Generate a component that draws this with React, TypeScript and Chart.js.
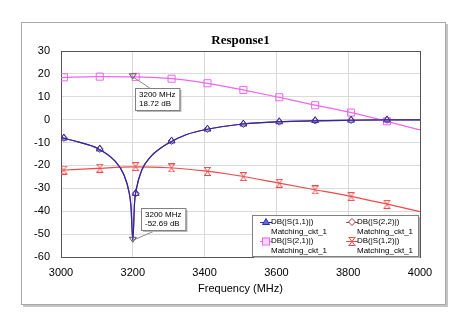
import React, { useEffect, useRef } from "react";
import { Chart, registerables } from "chart.js";

Chart.register(...registerables);

// ---------- data ----------
const TITLE = "Response1";
const X_TITLE = "Frequency (MHz)";
const X_MIN = 3000;
const X_MAX = 4000;
const X_STEP = 200;
const Y_MIN = -60;
const Y_MAX = 30;
const Y_STEP = 10;

// smooth curves
const FREQ_GRID = [3000, 3100, 3200, 3300, 3400, 3500, 3600, 3700, 3800, 3900, 4000];
const S21_LINE = [18.4, 18.8, 18.72, 18.0, 16.1, 13.2, 10.0, 6.6, 3.4, -0.4, -4.5];
const S12_LINE = [-22.1, -21.3, -20.6, -21.0, -22.4, -24.6, -27.5, -30.4, -33.3, -36.6, -40.2];

const FREQ_S11 = [3000, 3050, 3100, 3150, 3175, 3190, 3195, 3200, 3205, 3210, 3225, 3250, 3275, 3300, 3350, 3400, 3500, 3600, 3700, 3800, 3900, 4000];
const S11_LINE = [-7.8, -9.8, -12.4, -18.0, -24.0, -32.0, -38.0, -52.69, -36.0, -30.2, -22.0, -16.1, -12.7, -10.2, -6.5, -4.4, -2.0, -1.0, -0.5, -0.25, -0.1, -0.05];
const S22_LINE = [-7.8, -9.8, -12.4, -18.0, -24.0, -32.0, -38.0, -52.69, -36.0, -30.2, -22.0, -16.1, -12.7, -10.2, -6.5, -4.4, -2.0, -1.0, -0.5, -0.25, -0.1, -0.05];

// symbol positions
const MARK_FREQ = [3008, 3108, 3208, 3308, 3408, 3508, 3608, 3708, 3808, 3908];
const S11_MARKS = [-8.0, -12.8, -32.2, -9.3, -4.1, -1.9, -0.9, -0.4, -0.2, -0.1];
const S22_MARKS = [-8.0, -12.8, -32.2, -9.3, -4.1, -1.9, -0.9, -0.4, -0.2, -0.1];
const S21_MARKS = [18.5, 18.8, 18.7, 17.9, 15.9, 13.0, 9.8, 6.3, 3.1, -0.7];
const S12_MARKS = [-22.0, -21.2, -20.5, -21.1, -22.6, -24.9, -27.8, -30.7, -33.6, -37.0];

// marker readouts
const ANNOT_FREQ = [3200, 3200];
const ANNOT_DB = [18.72, -52.69];
const ANNOT_TEXT = [["3200 MHz", "18.72 dB"], ["3200 MHz", "-52.69 dB"]];

const LEGEND_LABELS = [
  ["DB(|S(1,1)|)", "Matching_ckt_1"],
  ["DB(|S(2,2)|)", "Matching_ckt_1"],
  ["DB(|S(2,1)|)", "Matching_ckt_1"],
  ["DB(|S(1,2)|)", "Matching_ckt_1"],
];

// ---------- styles ----------
const C_S11 = "#2b2bb0";
const C_S22 = "#a03a3a";
const C_S21 = "#ee66ee";
const C_S12 = "#ee4a4a";
const SANS = "'Liberation Sans', Arial, sans-serif";

const pts = (xs: number[], ys: number[]) => xs.map((x, i) => ({ x, y: ys[i] }));

function hourglass(color: string) {
  const c = document.createElement("canvas");
  c.width = 9;
  c.height = 9;
  const g = c.getContext("2d")!;
  g.strokeStyle = color;
  g.lineWidth = 1;
  g.beginPath();
  g.moveTo(1, 0.5);
  g.lineTo(8, 0.5);
  g.moveTo(1, 8.5);
  g.lineTo(8, 8.5);
  g.moveTo(1.5, 0.5);
  g.lineTo(7.5, 8.5);
  g.moveTo(7.5, 0.5);
  g.lineTo(1.5, 8.5);
  g.stroke();
  return c;
}

function drawSym(ctx: CanvasRenderingContext2D, kind: string, x: number, y: number, color: string) {
  ctx.save();
  ctx.strokeStyle = color;
  ctx.lineWidth = 1;
  ctx.beginPath();
  ctx.moveTo(x - 6, y + 0.5);
  ctx.lineTo(x + 6, y + 0.5);
  ctx.stroke();
  ctx.beginPath();
  if (kind === "tri") {
    ctx.moveTo(x, y - 3.5);
    ctx.lineTo(x + 3.5, y + 2.5);
    ctx.lineTo(x - 3.5, y + 2.5);
    ctx.closePath();
    ctx.fillStyle = "#6a6ae0";
    ctx.fill();
    ctx.stroke();
  } else if (kind === "dia") {
    ctx.moveTo(x, y - 3.5);
    ctx.lineTo(x + 3.5, y);
    ctx.lineTo(x, y + 3.5);
    ctx.lineTo(x - 3.5, y);
    ctx.closePath();
    ctx.fillStyle = "#fff";
    ctx.fill();
    ctx.stroke();
  } else if (kind === "sq") {
    ctx.fillStyle = "#fbd8fb";
    ctx.fillRect(x - 4, y - 3.5, 8, 7);
    ctx.strokeRect(x - 3.5, y - 3, 7, 7);
  } else {
    ctx.moveTo(x - 3.5, y - 3.5);
    ctx.lineTo(x + 3.5, y - 3.5);
    ctx.moveTo(x - 3.5, y + 4.5);
    ctx.lineTo(x + 3.5, y + 4.5);
    ctx.moveTo(x - 3, y - 3.5);
    ctx.lineTo(x + 3, y + 4.5);
    ctx.moveTo(x + 3, y - 3.5);
    ctx.lineTo(x - 3, y + 4.5);
    ctx.stroke();
  }
  ctx.restore();
}

const decorPlugin = {
  id: "decor",
  beforeDraw(chart: any) {
    const ctx: CanvasRenderingContext2D = chart.ctx;
    ctx.save();
    ctx.fillStyle = "#ffffff";
    ctx.fillRect(0, 0, chart.width, chart.height);
    // outer frame with shadow
    ctx.fillStyle = "#c4c4c4";
    ctx.fillRect(23, 24, 425, 283);
    ctx.fillStyle = "#ffffff";
    ctx.fillRect(21, 22, 425, 283);
    ctx.strokeStyle = "#a8a8a8";
    ctx.lineWidth = 1;
    ctx.strokeRect(21.5, 22.5, 424, 282);
    ctx.restore();
  },
  beforeDatasetsDraw(chart: any) {
    const ctx: CanvasRenderingContext2D = chart.ctx;
    const a = chart.chartArea;
    ctx.save();
    ctx.strokeStyle = "#555555";
    ctx.lineWidth = 1;
    ctx.strokeRect(Math.round(a.left) + 0.5, Math.round(a.top) + 0.5, Math.round(a.right - a.left), Math.round(a.bottom - a.top));
    ctx.restore();
  },
  afterDraw(chart: any) {
    const ctx: CanvasRenderingContext2D = chart.ctx;
    const a = chart.chartArea;
    const xs = chart.scales.x;
    const ys = chart.scales.y;
    ctx.save();
    // title
    ctx.fillStyle = "#000";
    ctx.textAlign = "center";
    ctx.textBaseline = "middle";
    ctx.font = "bold 13px 'Liberation Serif', 'Times New Roman', serif";
    ctx.fillText(TITLE, (a.left + a.right) / 2, 41);
    ctx.font = `11px ${SANS}`;
    ctx.fillText(X_TITLE, (a.left + a.right) / 2, 289);

    // readout annotations
    ctx.font = `8px ${SANS}`;
    ANNOT_FREQ.forEach((f, i) => {
      const px = xs.getPixelForValue(f);
      const py = ys.getPixelForValue(ANNOT_DB[i]);
      const lines = ANNOT_TEXT[i];
      const w = Math.max(...lines.map((t) => ctx.measureText(t).width)) + 8;
      const h = 22;
      const bx = i === 0 ? Math.round(px + 2) : Math.round(px + 8);
      const by = i === 0 ? Math.round(py + 11) : Math.round(py - 32);
      // leader
      ctx.strokeStyle = "#8a8a8a";
      ctx.lineWidth = 1;
      ctx.beginPath();
      ctx.moveTo(px, py);
      if (i === 0) ctx.lineTo(px + 17, by);
      else ctx.lineTo(px + 24, by + h);
      ctx.stroke();
      // box
      ctx.fillStyle = "#b8b8b8";
      ctx.fillRect(bx + 2, by + 2, w, h);
      ctx.fillStyle = "#fff";
      ctx.fillRect(bx, by, w, h);
      ctx.strokeStyle = "#808080";
      ctx.strokeRect(bx + 0.5, by + 0.5, w, h);
      ctx.fillStyle = "#000";
      ctx.textAlign = "left";
      ctx.textBaseline = "middle";
      ctx.fillText(lines[0], bx + 4, by + 7);
      ctx.fillText(lines[1], bx + 4, by + 16);
      // marker glyph
      ctx.strokeStyle = "#555";
      ctx.beginPath();
      ctx.moveTo(px - 3.5, py - 3);
      ctx.lineTo(px + 3.5, py - 3);
      ctx.lineTo(px, py + 2);
      ctx.closePath();
      ctx.stroke();
    });

    // legend
    const lx = 252, ly = 215, lw = 166, lh = 41;
    ctx.fillStyle = "#b8b8b8";
    ctx.fillRect(lx + 2, ly + 2, lw, lh);
    ctx.fillStyle = "#fff";
    ctx.fillRect(lx, ly, lw, lh);
    ctx.strokeStyle = "#808080";
    ctx.lineWidth = 1;
    ctx.strokeRect(lx + 0.5, ly + 0.5, lw, lh);
    const kinds = ["tri", "dia", "sq", "hg"];
    const cols = [C_S11, C_S22, C_S21, C_S12];
    const colX = [266, 352];
    const rowY = [222, 241];
    LEGEND_LABELS.forEach((lab, i) => {
      const cx = colX[i % 2];
      const cy = rowY[Math.floor(i / 2)];
      drawSym(ctx, kinds[i], cx, cy, cols[i]);
      ctx.fillStyle = "#000";
      ctx.font = `8px ${SANS}`;
      ctx.textAlign = "left";
      ctx.textBaseline = "middle";
      ctx.fillText(lab[0], cx + 5, cy);
      ctx.fillText(lab[1], cx + 5, cy + 9.5);
    });
    ctx.restore();
  },
};

export default function App() {
  const ref = useRef<HTMLCanvasElement | null>(null);
  useEffect(() => {
    const canvas = ref.current;
    if (!canvas) return;
    const hg = hourglass(C_S12);
    const lineDs = (xs: number[], ys: number[], color: string) => ({
      data: pts(xs, ys),
      borderColor: color,
      borderWidth: 1.2,
      pointRadius: 0,
      fill: false,
      cubicInterpolationMode: "monotone" as const,
    });
    const markDs = (ys: number[], color: string, style: any, r: number) => ({
      data: pts(MARK_FREQ, ys),
      showLine: false,
      borderColor: color,
      backgroundColor: "rgba(0,0,0,0)",
      pointStyle: style,
      pointRadius: r,
      pointBorderWidth: 1,
    });
    const chart = new Chart(canvas, {
      type: "line",
      data: {
        datasets: [
          markDs(S11_MARKS, C_S11, "triangle", 4),
          lineDs(FREQ_S11, S11_LINE, C_S11),
          markDs(S21_MARKS, C_S21, "rect", 5),
          lineDs(FREQ_GRID, S21_LINE, C_S21),
          markDs(S12_MARKS, C_S12, hg, 4),
          lineDs(FREQ_GRID, S12_LINE, C_S12),
          markDs(S22_MARKS, C_S22, "rectRot", 3.5),
          lineDs(FREQ_S11, S22_LINE, C_S22),
        ] as any,
      },
      options: {
        animation: false,
        responsive: false,
        devicePixelRatio: 1,
        layout: { padding: { left: 0, right: 54, top: 51, bottom: 0 } },
        plugins: { legend: { display: false }, tooltip: { enabled: false }, title: { display: false } },
        scales: {
          x: {
            type: "linear",
            min: X_MIN,
            max: X_MAX,
            ticks: {
              stepSize: X_STEP,
              color: "#000",
              font: { size: 11, family: SANS },
              padding: 9,
              maxRotation: 0,
              callback: (v: any) => String(v),
            },
            grid: { color: "#dadada", drawTicks: false },
            border: { display: false },
            afterFit: (s: any) => {
              s.height = 72;
            },
          },
          y: {
            min: Y_MIN,
            max: Y_MAX,
            ticks: {
              stepSize: Y_STEP,
              color: "#000",
              font: { size: 11, family: SANS },
              padding: 11,
              callback: (v: any) => String(v),
            },
            grid: { color: "#dadada", drawTicks: false },
            border: { display: false },
            afterFit: (s: any) => {
              s.width = 61;
            },
          },
        },
      } as any,
      plugins: [decorPlugin],
    });
    return () => chart.destroy();
  }, []);
  return (
    <div style={{ position: "absolute", left: 0, top: 0, width: 474, height: 329, background: "#fff" }}>
      <canvas ref={ref} width={474} height={329} style={{ display: "block", width: 474, height: 329 }} />
    </div>
  );
}
